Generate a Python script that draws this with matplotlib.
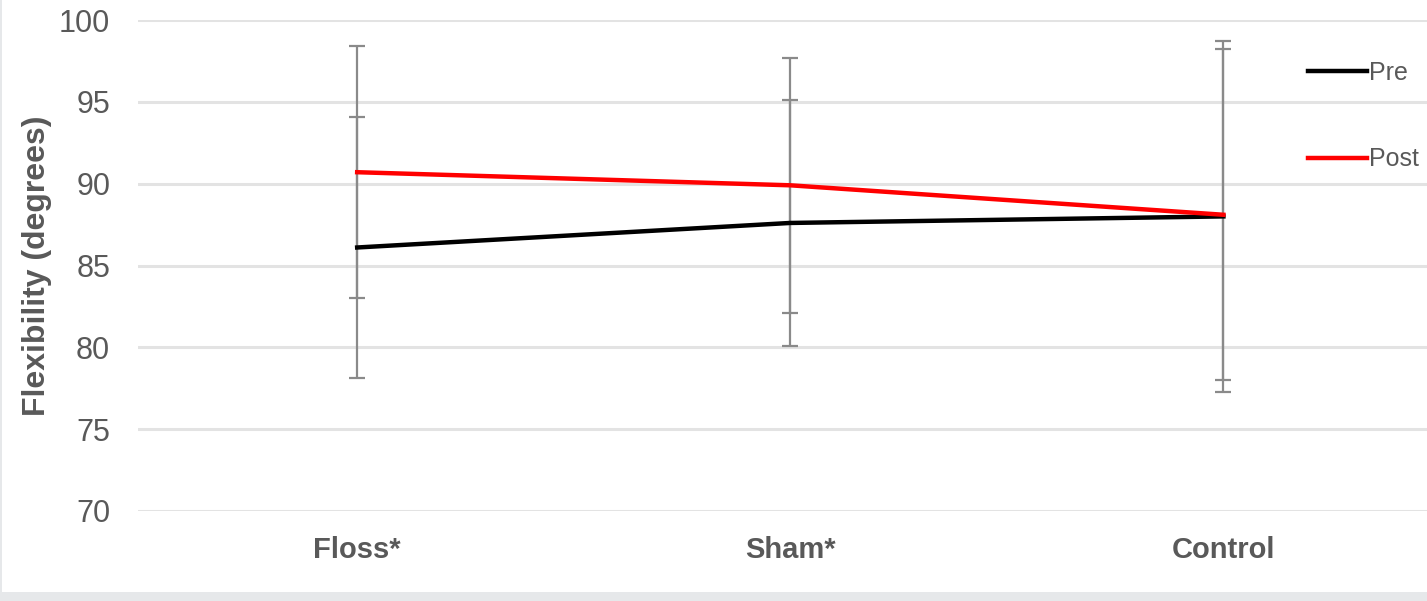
import matplotlib
matplotlib.use("Agg")
import matplotlib.pyplot as plt
from matplotlib.patches import Rectangle

categories = ["Floss*", "Sham*", "Control"]
pre_mean = [86.1, 87.6, 88.0]
pre_err = [8.0, 7.5, 10.7]
post_mean = [90.7, 89.9, 88.1]
post_err = [7.7, 7.8, 10.1]
yticks = [70, 75, 80, 85, 90, 95, 100]

plt.rcParams['font.family'] = ['Liberation Sans', 'DejaVu Sans']
W, H = 1427, 601
fig = plt.figure(figsize=(W / 100, H / 100), dpi=100)
fig.patch.set_facecolor('white')
# light grey border strip at bottom and left
fig.patches.append(Rectangle((0, 0), 1, 9 / H, transform=fig.transFigure,
                             facecolor='#e6e8ea', edgecolor='none', zorder=0))
fig.patches.append(Rectangle((0, 0), 2 / W, 1, transform=fig.transFigure,
                             facecolor='#e6e8ea', edgecolor='none', zorder=0))

ax = fig.add_axes([138 / W, 1 - 511 / H, 1 - 138 / W, (511 - 20) / H])
x = list(range(len(categories)))

ax.errorbar(x, pre_mean, yerr=pre_err, fmt='none', ecolor='#8a8a8a',
            elinewidth=1.6, capsize=6, capthick=1.6, zorder=2)
ax.errorbar(x, post_mean, yerr=post_err, fmt='none', ecolor='#8a8a8a',
            elinewidth=1.6, capsize=6, capthick=1.6, zorder=2)
ax.plot(x, pre_mean, color='black', lw=3.2, label='Pre', zorder=3)
ax.plot(x, post_mean, color='#ff0000', lw=3.2, label='Post', zorder=4)

ax.set_ylim(70, 100)
ax.set_xlim(-0.506, 2.47)
ax.set_yticks(yticks)
ax.set_yticklabels([str(v) for v in yticks], color='#595959', fontsize=22)
ax.set_xticks(x)
ax.set_xticklabels(categories, color='#595959', fontsize=21, fontweight='bold')
ax.tick_params(axis='both', length=0)
ax.tick_params(axis='y', pad=20)
ax.tick_params(axis='x', pad=18)
ax.grid(axis='y', color='#e3e3e3', lw=2.2, zorder=0)
ax.set_axisbelow(True)
for s in ax.spines.values():
    s.set_visible(False)
ax.set_ylabel('Flexibility (degrees)', color='#595959', fontsize=23,
              fontweight='bold', labelpad=5)

leg = ax.legend(loc='upper left', bbox_to_anchor=(1308 / W, 1 - 61 / H),
                bbox_transform=fig.transFigure, frameon=False, fontsize=18,
                handlelength=2.35, handletextpad=0.1, labelspacing=2.5,
                borderpad=0, borderaxespad=0)
for t in leg.get_texts():
    t.set_color('#595959')

fig.savefig('out.png', dpi=100)
